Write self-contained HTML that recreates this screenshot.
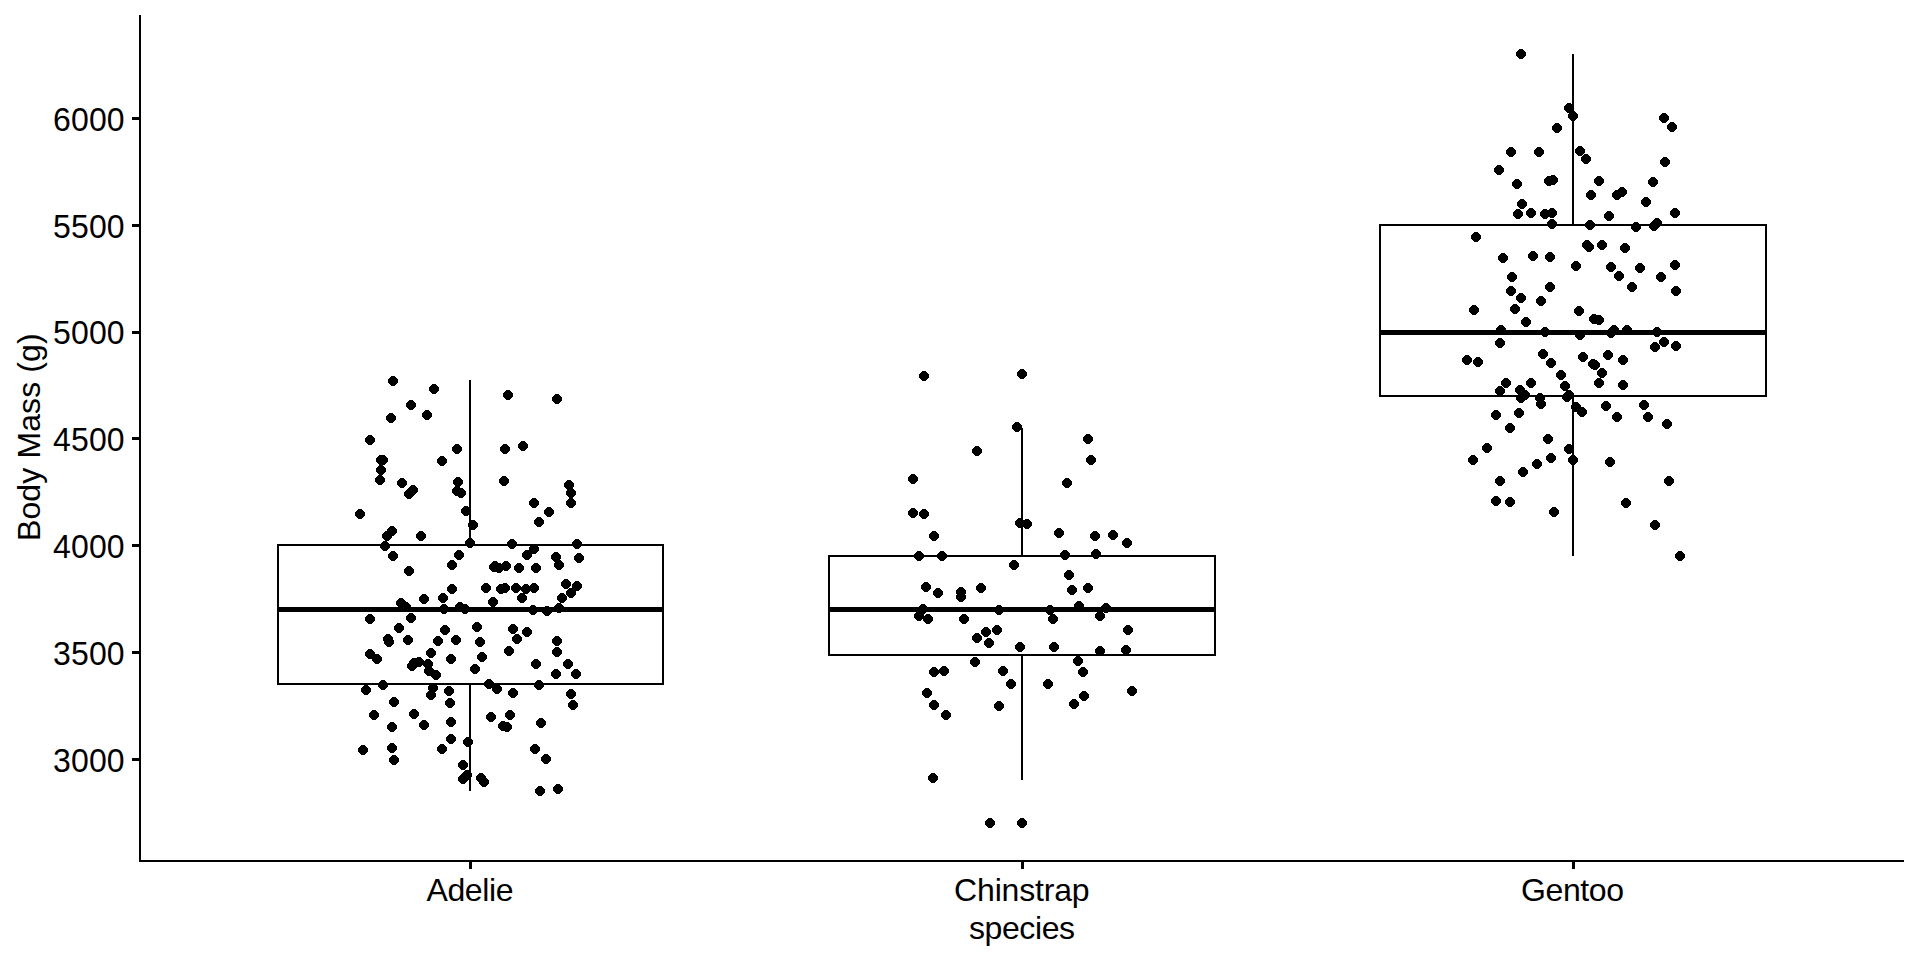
<!DOCTYPE html><html><head><meta charset="utf-8"><title>Body Mass by species</title><style>html,body{margin:0;padding:0;background:#fff;width:1920px;height:960px;overflow:hidden}svg{display:block}text{font-family:"Liberation Sans",Arial,sans-serif;fill:#000}</style></head><body>
<svg width="1920" height="960" viewBox="0 0 1920 960">
<rect width="1920" height="960" fill="#fff"/>
<g fill="#000" shape-rendering="crispEdges">
<rect x="469" y="380" width="2" height="164"/>
<rect x="469" y="685" width="2" height="106"/>
<rect x="277" y="544" width="387" height="2"/>
<rect x="277" y="683" width="387" height="2"/>
<rect x="277" y="544" width="2" height="141"/>
<rect x="662" y="544" width="2" height="141"/>
<rect x="277" y="607" width="387" height="5"/>
<rect x="1021" y="428" width="2" height="127"/>
<rect x="1021" y="656" width="2" height="124"/>
<rect x="828" y="555" width="388" height="2"/>
<rect x="828" y="654" width="388" height="2"/>
<rect x="828" y="555" width="2" height="101"/>
<rect x="1214" y="555" width="2" height="101"/>
<rect x="828" y="607" width="388" height="5"/>
<rect x="1572" y="54" width="2" height="170"/>
<rect x="1572" y="397" width="2" height="159"/>
<rect x="1379" y="224" width="388" height="2"/>
<rect x="1379" y="395" width="388" height="2"/>
<rect x="1379" y="224" width="2" height="173"/>
<rect x="1765" y="224" width="2" height="173"/>
<rect x="1379" y="330" width="388" height="5"/>
<rect x="139" y="15" width="2" height="847"/>
<rect x="139" y="860" width="1765" height="2"/>
<rect x="132" y="758" width="7" height="3"/>
<rect x="132" y="651" width="7" height="3"/>
<rect x="132" y="544" width="7" height="3"/>
<rect x="132" y="437" width="7" height="3"/>
<rect x="132" y="331" width="7" height="3"/>
<rect x="132" y="224" width="7" height="3"/>
<rect x="132" y="117" width="7" height="3"/>
<rect x="469" y="862" width="3" height="7"/>
<rect x="1021" y="862" width="3" height="7"/>
<rect x="1572" y="862" width="3" height="7"/>
</g>
<path fill="#000" d="M391 376h4v1h1v1h1v1h1v4h-1v1h-1v1h-1v1h-4v-1h-1v-1h-1v-1h-1v-4h1v-1h1v-1h1zM432 384h4v1h1v1h1v1h1v4h-1v1h-1v1h-1v1h-4v-1h-1v-1h-1v-1h-1v-4h1v-1h1v-1h1zM409 400h4v1h1v1h1v1h1v4h-1v1h-1v1h-1v1h-4v-1h-1v-1h-1v-1h-1v-4h1v-1h1v-1h1zM425 410h4v1h1v1h1v1h1v4h-1v1h-1v1h-1v1h-4v-1h-1v-1h-1v-1h-1v-4h1v-1h1v-1h1zM389 413h4v1h1v1h1v1h1v4h-1v1h-1v1h-1v1h-4v-1h-1v-1h-1v-1h-1v-4h1v-1h1v-1h1zM368 435h4v1h1v1h1v1h1v4h-1v1h-1v1h-1v1h-4v-1h-1v-1h-1v-1h-1v-4h1v-1h1v-1h1zM455 444h4v1h1v1h1v1h1v4h-1v1h-1v1h-1v1h-4v-1h-1v-1h-1v-1h-1v-4h1v-1h1v-1h1zM379 455h4v1h1v1h1v1h1v4h-1v1h-1v1h-1v1h-4v-1h-1v-1h-1v-1h-1v-4h1v-1h1v-1h1zM381 455h4v1h1v1h1v1h1v4h-1v1h-1v1h-1v1h-4v-1h-1v-1h-1v-1h-1v-4h1v-1h1v-1h1zM440 456h4v1h1v1h1v1h1v4h-1v1h-1v1h-1v1h-4v-1h-1v-1h-1v-1h-1v-4h1v-1h1v-1h1zM379 465h4v1h1v1h1v1h1v4h-1v1h-1v1h-1v1h-4v-1h-1v-1h-1v-1h-1v-4h1v-1h1v-1h1zM378 475h4v1h1v1h1v1h1v4h-1v1h-1v1h-1v1h-4v-1h-1v-1h-1v-1h-1v-4h1v-1h1v-1h1zM400 478h4v1h1v1h1v1h1v4h-1v1h-1v1h-1v1h-4v-1h-1v-1h-1v-1h-1v-4h1v-1h1v-1h1zM456 477h4v1h1v1h1v1h1v4h-1v1h-1v1h-1v1h-4v-1h-1v-1h-1v-1h-1v-4h1v-1h1v-1h1zM407 489h4v1h1v1h1v1h1v4h-1v1h-1v1h-1v1h-4v-1h-1v-1h-1v-1h-1v-4h1v-1h1v-1h1zM411 485h4v1h1v1h1v1h1v4h-1v1h-1v1h-1v1h-4v-1h-1v-1h-1v-1h-1v-4h1v-1h1v-1h1zM455 486h4v1h1v1h1v1h1v4h-1v1h-1v1h-1v1h-4v-1h-1v-1h-1v-1h-1v-4h1v-1h1v-1h1zM459 488h4v1h1v1h1v1h1v4h-1v1h-1v1h-1v1h-4v-1h-1v-1h-1v-1h-1v-4h1v-1h1v-1h1zM358 509h4v1h1v1h1v1h1v4h-1v1h-1v1h-1v1h-4v-1h-1v-1h-1v-1h-1v-4h1v-1h1v-1h1zM464 506h4v1h1v1h1v1h1v4h-1v1h-1v1h-1v1h-4v-1h-1v-1h-1v-1h-1v-4h1v-1h1v-1h1zM385 531h4v1h1v1h1v1h1v4h-1v1h-1v1h-1v1h-4v-1h-1v-1h-1v-1h-1v-4h1v-1h1v-1h1zM390 526h4v1h1v1h1v1h1v4h-1v1h-1v1h-1v1h-4v-1h-1v-1h-1v-1h-1v-4h1v-1h1v-1h1zM419 531h4v1h1v1h1v1h1v4h-1v1h-1v1h-1v1h-4v-1h-1v-1h-1v-1h-1v-4h1v-1h1v-1h1zM383 541h4v1h1v1h1v1h1v4h-1v1h-1v1h-1v1h-4v-1h-1v-1h-1v-1h-1v-4h1v-1h1v-1h1zM391 551h4v1h1v1h1v1h1v4h-1v1h-1v1h-1v1h-4v-1h-1v-1h-1v-1h-1v-4h1v-1h1v-1h1zM457 550h4v1h1v1h1v1h1v4h-1v1h-1v1h-1v1h-4v-1h-1v-1h-1v-1h-1v-4h1v-1h1v-1h1zM450 560h4v1h1v1h1v1h1v4h-1v1h-1v1h-1v1h-4v-1h-1v-1h-1v-1h-1v-4h1v-1h1v-1h1zM407 566h4v1h1v1h1v1h1v4h-1v1h-1v1h-1v1h-4v-1h-1v-1h-1v-1h-1v-4h1v-1h1v-1h1zM450 584h4v1h1v1h1v1h1v4h-1v1h-1v1h-1v1h-4v-1h-1v-1h-1v-1h-1v-4h1v-1h1v-1h1zM422 594h4v1h1v1h1v1h1v4h-1v1h-1v1h-1v1h-4v-1h-1v-1h-1v-1h-1v-4h1v-1h1v-1h1zM441 593h4v1h1v1h1v1h1v4h-1v1h-1v1h-1v1h-4v-1h-1v-1h-1v-1h-1v-4h1v-1h1v-1h1zM399 598h4v1h1v1h1v1h1v4h-1v1h-1v1h-1v1h-4v-1h-1v-1h-1v-1h-1v-4h1v-1h1v-1h1zM404 602h4v1h1v1h1v1h1v4h-1v1h-1v1h-1v1h-4v-1h-1v-1h-1v-1h-1v-4h1v-1h1v-1h1zM442 604h4v1h1v1h1v1h1v4h-1v1h-1v1h-1v1h-4v-1h-1v-1h-1v-1h-1v-4h1v-1h1v-1h1zM458 602h4v1h1v1h1v1h1v4h-1v1h-1v1h-1v1h-4v-1h-1v-1h-1v-1h-1v-4h1v-1h1v-1h1zM463 604h4v1h1v1h1v1h1v4h-1v1h-1v1h-1v1h-4v-1h-1v-1h-1v-1h-1v-4h1v-1h1v-1h1zM368 614h4v1h1v1h1v1h1v4h-1v1h-1v1h-1v1h-4v-1h-1v-1h-1v-1h-1v-4h1v-1h1v-1h1zM409 613h4v1h1v1h1v1h1v4h-1v1h-1v1h-1v1h-4v-1h-1v-1h-1v-1h-1v-4h1v-1h1v-1h1zM397 623h4v1h1v1h1v1h1v4h-1v1h-1v1h-1v1h-4v-1h-1v-1h-1v-1h-1v-4h1v-1h1v-1h1zM443 625h4v1h1v1h1v1h1v4h-1v1h-1v1h-1v1h-4v-1h-1v-1h-1v-1h-1v-4h1v-1h1v-1h1zM386 634h4v1h1v1h1v1h1v4h-1v1h-1v1h-1v1h-4v-1h-1v-1h-1v-1h-1v-4h1v-1h1v-1h1zM387 637h4v1h1v1h1v1h1v4h-1v1h-1v1h-1v1h-4v-1h-1v-1h-1v-1h-1v-4h1v-1h1v-1h1zM406 635h4v1h1v1h1v1h1v4h-1v1h-1v1h-1v1h-4v-1h-1v-1h-1v-1h-1v-4h1v-1h1v-1h1zM436 636h4v1h1v1h1v1h1v4h-1v1h-1v1h-1v1h-4v-1h-1v-1h-1v-1h-1v-4h1v-1h1v-1h1zM454 635h4v1h1v1h1v1h1v4h-1v1h-1v1h-1v1h-4v-1h-1v-1h-1v-1h-1v-4h1v-1h1v-1h1zM368 649h4v1h1v1h1v1h1v4h-1v1h-1v1h-1v1h-4v-1h-1v-1h-1v-1h-1v-4h1v-1h1v-1h1zM375 654h4v1h1v1h1v1h1v4h-1v1h-1v1h-1v1h-4v-1h-1v-1h-1v-1h-1v-4h1v-1h1v-1h1zM429 648h4v1h1v1h1v1h1v4h-1v1h-1v1h-1v1h-4v-1h-1v-1h-1v-1h-1v-4h1v-1h1v-1h1zM449 654h4v1h1v1h1v1h1v4h-1v1h-1v1h-1v1h-4v-1h-1v-1h-1v-1h-1v-4h1v-1h1v-1h1zM410 661h4v1h1v1h1v1h1v4h-1v1h-1v1h-1v1h-4v-1h-1v-1h-1v-1h-1v-4h1v-1h1v-1h1zM412 658h4v1h1v1h1v1h1v4h-1v1h-1v1h-1v1h-4v-1h-1v-1h-1v-1h-1v-4h1v-1h1v-1h1zM417 657h4v1h1v1h1v1h1v4h-1v1h-1v1h-1v1h-4v-1h-1v-1h-1v-1h-1v-4h1v-1h1v-1h1zM426 659h4v1h1v1h1v1h1v4h-1v1h-1v1h-1v1h-4v-1h-1v-1h-1v-1h-1v-4h1v-1h1v-1h1zM427 666h4v1h1v1h1v1h1v4h-1v1h-1v1h-1v1h-4v-1h-1v-1h-1v-1h-1v-4h1v-1h1v-1h1zM434 670h4v1h1v1h1v1h1v4h-1v1h-1v1h-1v1h-4v-1h-1v-1h-1v-1h-1v-4h1v-1h1v-1h1zM381 680h4v1h1v1h1v1h1v4h-1v1h-1v1h-1v1h-4v-1h-1v-1h-1v-1h-1v-4h1v-1h1v-1h1zM364 685h4v1h1v1h1v1h1v4h-1v1h-1v1h-1v1h-4v-1h-1v-1h-1v-1h-1v-4h1v-1h1v-1h1zM431 683h4v1h1v1h1v1h1v4h-1v1h-1v1h-1v1h-4v-1h-1v-1h-1v-1h-1v-4h1v-1h1v-1h1zM429 690h4v1h1v1h1v1h1v4h-1v1h-1v1h-1v1h-4v-1h-1v-1h-1v-1h-1v-4h1v-1h1v-1h1zM447 686h4v1h1v1h1v1h1v4h-1v1h-1v1h-1v1h-4v-1h-1v-1h-1v-1h-1v-4h1v-1h1v-1h1zM392 697h4v1h1v1h1v1h1v4h-1v1h-1v1h-1v1h-4v-1h-1v-1h-1v-1h-1v-4h1v-1h1v-1h1zM448 698h4v1h1v1h1v1h1v4h-1v1h-1v1h-1v1h-4v-1h-1v-1h-1v-1h-1v-4h1v-1h1v-1h1zM372 710h4v1h1v1h1v1h1v4h-1v1h-1v1h-1v1h-4v-1h-1v-1h-1v-1h-1v-4h1v-1h1v-1h1zM412 709h4v1h1v1h1v1h1v4h-1v1h-1v1h-1v1h-4v-1h-1v-1h-1v-1h-1v-4h1v-1h1v-1h1zM390 722h4v1h1v1h1v1h1v4h-1v1h-1v1h-1v1h-4v-1h-1v-1h-1v-1h-1v-4h1v-1h1v-1h1zM422 720h4v1h1v1h1v1h1v4h-1v1h-1v1h-1v1h-4v-1h-1v-1h-1v-1h-1v-4h1v-1h1v-1h1zM449 717h4v1h1v1h1v1h1v4h-1v1h-1v1h-1v1h-4v-1h-1v-1h-1v-1h-1v-4h1v-1h1v-1h1zM449 734h4v1h1v1h1v1h1v4h-1v1h-1v1h-1v1h-4v-1h-1v-1h-1v-1h-1v-4h1v-1h1v-1h1zM466 737h4v1h1v1h1v1h1v4h-1v1h-1v1h-1v1h-4v-1h-1v-1h-1v-1h-1v-4h1v-1h1v-1h1zM361 745h4v1h1v1h1v1h1v4h-1v1h-1v1h-1v1h-4v-1h-1v-1h-1v-1h-1v-4h1v-1h1v-1h1zM390 743h4v1h1v1h1v1h1v4h-1v1h-1v1h-1v1h-4v-1h-1v-1h-1v-1h-1v-4h1v-1h1v-1h1zM440 744h4v1h1v1h1v1h1v4h-1v1h-1v1h-1v1h-4v-1h-1v-1h-1v-1h-1v-4h1v-1h1v-1h1zM392 755h4v1h1v1h1v1h1v4h-1v1h-1v1h-1v1h-4v-1h-1v-1h-1v-1h-1v-4h1v-1h1v-1h1zM461 760h4v1h1v1h1v1h1v4h-1v1h-1v1h-1v1h-4v-1h-1v-1h-1v-1h-1v-4h1v-1h1v-1h1zM461 774h4v1h1v1h1v1h1v4h-1v1h-1v1h-1v1h-4v-1h-1v-1h-1v-1h-1v-4h1v-1h1v-1h1zM506 390h4v1h1v1h1v1h1v4h-1v1h-1v1h-1v1h-4v-1h-1v-1h-1v-1h-1v-4h1v-1h1v-1h1zM555 394h4v1h1v1h1v1h1v4h-1v1h-1v1h-1v1h-4v-1h-1v-1h-1v-1h-1v-4h1v-1h1v-1h1zM503 444h4v1h1v1h1v1h1v4h-1v1h-1v1h-1v1h-4v-1h-1v-1h-1v-1h-1v-4h1v-1h1v-1h1zM521 441h4v1h1v1h1v1h1v4h-1v1h-1v1h-1v1h-4v-1h-1v-1h-1v-1h-1v-4h1v-1h1v-1h1zM502 476h4v1h1v1h1v1h1v4h-1v1h-1v1h-1v1h-4v-1h-1v-1h-1v-1h-1v-4h1v-1h1v-1h1zM567 480h4v1h1v1h1v1h1v4h-1v1h-1v1h-1v1h-4v-1h-1v-1h-1v-1h-1v-4h1v-1h1v-1h1zM569 488h4v1h1v1h1v1h1v4h-1v1h-1v1h-1v1h-4v-1h-1v-1h-1v-1h-1v-4h1v-1h1v-1h1zM569 498h4v1h1v1h1v1h1v4h-1v1h-1v1h-1v1h-4v-1h-1v-1h-1v-1h-1v-4h1v-1h1v-1h1zM532 498h4v1h1v1h1v1h1v4h-1v1h-1v1h-1v1h-4v-1h-1v-1h-1v-1h-1v-4h1v-1h1v-1h1zM547 507h4v1h1v1h1v1h1v4h-1v1h-1v1h-1v1h-4v-1h-1v-1h-1v-1h-1v-4h1v-1h1v-1h1zM537 517h4v1h1v1h1v1h1v4h-1v1h-1v1h-1v1h-4v-1h-1v-1h-1v-1h-1v-4h1v-1h1v-1h1zM471 520h4v1h1v1h1v1h1v4h-1v1h-1v1h-1v1h-4v-1h-1v-1h-1v-1h-1v-4h1v-1h1v-1h1zM468 538h4v1h1v1h1v1h1v4h-1v1h-1v1h-1v1h-4v-1h-1v-1h-1v-1h-1v-4h1v-1h1v-1h1zM510 539h4v1h1v1h1v1h1v4h-1v1h-1v1h-1v1h-4v-1h-1v-1h-1v-1h-1v-4h1v-1h1v-1h1zM575 539h4v1h1v1h1v1h1v4h-1v1h-1v1h-1v1h-4v-1h-1v-1h-1v-1h-1v-4h1v-1h1v-1h1zM532 544h4v1h1v1h1v1h1v4h-1v1h-1v1h-1v1h-4v-1h-1v-1h-1v-1h-1v-4h1v-1h1v-1h1zM525 550h4v1h1v1h1v1h1v4h-1v1h-1v1h-1v1h-4v-1h-1v-1h-1v-1h-1v-4h1v-1h1v-1h1zM554 552h4v1h1v1h1v1h1v4h-1v1h-1v1h-1v1h-4v-1h-1v-1h-1v-1h-1v-4h1v-1h1v-1h1zM557 560h4v1h1v1h1v1h1v4h-1v1h-1v1h-1v1h-4v-1h-1v-1h-1v-1h-1v-4h1v-1h1v-1h1zM577 553h4v1h1v1h1v1h1v4h-1v1h-1v1h-1v1h-4v-1h-1v-1h-1v-1h-1v-4h1v-1h1v-1h1zM492 562h4v1h1v1h1v1h1v4h-1v1h-1v1h-1v1h-4v-1h-1v-1h-1v-1h-1v-4h1v-1h1v-1h1zM493 561h4v1h1v1h1v1h1v4h-1v1h-1v1h-1v1h-4v-1h-1v-1h-1v-1h-1v-4h1v-1h1v-1h1zM497 563h4v1h1v1h1v1h1v4h-1v1h-1v1h-1v1h-4v-1h-1v-1h-1v-1h-1v-4h1v-1h1v-1h1zM504 561h4v1h1v1h1v1h1v4h-1v1h-1v1h-1v1h-4v-1h-1v-1h-1v-1h-1v-4h1v-1h1v-1h1zM517 563h4v1h1v1h1v1h1v4h-1v1h-1v1h-1v1h-4v-1h-1v-1h-1v-1h-1v-4h1v-1h1v-1h1zM534 563h4v1h1v1h1v1h1v4h-1v1h-1v1h-1v1h-4v-1h-1v-1h-1v-1h-1v-4h1v-1h1v-1h1zM484 583h4v1h1v1h1v1h1v4h-1v1h-1v1h-1v1h-4v-1h-1v-1h-1v-1h-1v-4h1v-1h1v-1h1zM499 584h4v1h1v1h1v1h1v4h-1v1h-1v1h-1v1h-4v-1h-1v-1h-1v-1h-1v-4h1v-1h1v-1h1zM503 583h4v1h1v1h1v1h1v4h-1v1h-1v1h-1v1h-4v-1h-1v-1h-1v-1h-1v-4h1v-1h1v-1h1zM514 583h4v1h1v1h1v1h1v4h-1v1h-1v1h-1v1h-4v-1h-1v-1h-1v-1h-1v-4h1v-1h1v-1h1zM524 584h4v1h1v1h1v1h1v4h-1v1h-1v1h-1v1h-4v-1h-1v-1h-1v-1h-1v-4h1v-1h1v-1h1zM532 583h4v1h1v1h1v1h1v4h-1v1h-1v1h-1v1h-4v-1h-1v-1h-1v-1h-1v-4h1v-1h1v-1h1zM564 579h4v1h1v1h1v1h1v4h-1v1h-1v1h-1v1h-4v-1h-1v-1h-1v-1h-1v-4h1v-1h1v-1h1zM575 581h4v1h1v1h1v1h1v4h-1v1h-1v1h-1v1h-4v-1h-1v-1h-1v-1h-1v-4h1v-1h1v-1h1zM569 588h4v1h1v1h1v1h1v4h-1v1h-1v1h-1v1h-4v-1h-1v-1h-1v-1h-1v-4h1v-1h1v-1h1zM560 593h4v1h1v1h1v1h1v4h-1v1h-1v1h-1v1h-4v-1h-1v-1h-1v-1h-1v-4h1v-1h1v-1h1zM491 597h4v1h1v1h1v1h1v4h-1v1h-1v1h-1v1h-4v-1h-1v-1h-1v-1h-1v-4h1v-1h1v-1h1zM520 593h4v1h1v1h1v1h1v4h-1v1h-1v1h-1v1h-4v-1h-1v-1h-1v-1h-1v-4h1v-1h1v-1h1zM531 605h4v1h1v1h1v1h1v4h-1v1h-1v1h-1v1h-4v-1h-1v-1h-1v-1h-1v-4h1v-1h1v-1h1zM545 606h4v1h1v1h1v1h1v4h-1v1h-1v1h-1v1h-4v-1h-1v-1h-1v-1h-1v-4h1v-1h1v-1h1zM557 603h4v1h1v1h1v1h1v4h-1v1h-1v1h-1v1h-4v-1h-1v-1h-1v-1h-1v-4h1v-1h1v-1h1zM475 622h4v1h1v1h1v1h1v4h-1v1h-1v1h-1v1h-4v-1h-1v-1h-1v-1h-1v-4h1v-1h1v-1h1zM511 624h4v1h1v1h1v1h1v4h-1v1h-1v1h-1v1h-4v-1h-1v-1h-1v-1h-1v-4h1v-1h1v-1h1zM525 627h4v1h1v1h1v1h1v4h-1v1h-1v1h-1v1h-4v-1h-1v-1h-1v-1h-1v-4h1v-1h1v-1h1zM515 634h4v1h1v1h1v1h1v4h-1v1h-1v1h-1v1h-4v-1h-1v-1h-1v-1h-1v-4h1v-1h1v-1h1zM478 637h4v1h1v1h1v1h1v4h-1v1h-1v1h-1v1h-4v-1h-1v-1h-1v-1h-1v-4h1v-1h1v-1h1zM555 636h4v1h1v1h1v1h1v4h-1v1h-1v1h-1v1h-4v-1h-1v-1h-1v-1h-1v-4h1v-1h1v-1h1zM507 646h4v1h1v1h1v1h1v4h-1v1h-1v1h-1v1h-4v-1h-1v-1h-1v-1h-1v-4h1v-1h1v-1h1zM555 647h4v1h1v1h1v1h1v4h-1v1h-1v1h-1v1h-4v-1h-1v-1h-1v-1h-1v-4h1v-1h1v-1h1zM480 652h4v1h1v1h1v1h1v4h-1v1h-1v1h-1v1h-4v-1h-1v-1h-1v-1h-1v-4h1v-1h1v-1h1zM534 659h4v1h1v1h1v1h1v4h-1v1h-1v1h-1v1h-4v-1h-1v-1h-1v-1h-1v-4h1v-1h1v-1h1zM566 659h4v1h1v1h1v1h1v4h-1v1h-1v1h-1v1h-4v-1h-1v-1h-1v-1h-1v-4h1v-1h1v-1h1zM473 664h4v1h1v1h1v1h1v4h-1v1h-1v1h-1v1h-4v-1h-1v-1h-1v-1h-1v-4h1v-1h1v-1h1zM554 669h4v1h1v1h1v1h1v4h-1v1h-1v1h-1v1h-4v-1h-1v-1h-1v-1h-1v-4h1v-1h1v-1h1zM574 669h4v1h1v1h1v1h1v4h-1v1h-1v1h-1v1h-4v-1h-1v-1h-1v-1h-1v-4h1v-1h1v-1h1zM487 679h4v1h1v1h1v1h1v4h-1v1h-1v1h-1v1h-4v-1h-1v-1h-1v-1h-1v-4h1v-1h1v-1h1zM495 684h4v1h1v1h1v1h1v4h-1v1h-1v1h-1v1h-4v-1h-1v-1h-1v-1h-1v-4h1v-1h1v-1h1zM511 688h4v1h1v1h1v1h1v4h-1v1h-1v1h-1v1h-4v-1h-1v-1h-1v-1h-1v-4h1v-1h1v-1h1zM537 680h4v1h1v1h1v1h1v4h-1v1h-1v1h-1v1h-4v-1h-1v-1h-1v-1h-1v-4h1v-1h1v-1h1zM569 689h4v1h1v1h1v1h1v4h-1v1h-1v1h-1v1h-4v-1h-1v-1h-1v-1h-1v-4h1v-1h1v-1h1zM571 700h4v1h1v1h1v1h1v4h-1v1h-1v1h-1v1h-4v-1h-1v-1h-1v-1h-1v-4h1v-1h1v-1h1zM489 712h4v1h1v1h1v1h1v4h-1v1h-1v1h-1v1h-4v-1h-1v-1h-1v-1h-1v-4h1v-1h1v-1h1zM508 710h4v1h1v1h1v1h1v4h-1v1h-1v1h-1v1h-4v-1h-1v-1h-1v-1h-1v-4h1v-1h1v-1h1zM501 721h4v1h1v1h1v1h1v4h-1v1h-1v1h-1v1h-4v-1h-1v-1h-1v-1h-1v-4h1v-1h1v-1h1zM505 722h4v1h1v1h1v1h1v4h-1v1h-1v1h-1v1h-4v-1h-1v-1h-1v-1h-1v-4h1v-1h1v-1h1zM539 718h4v1h1v1h1v1h1v4h-1v1h-1v1h-1v1h-4v-1h-1v-1h-1v-1h-1v-4h1v-1h1v-1h1zM533 744h4v1h1v1h1v1h1v4h-1v1h-1v1h-1v1h-4v-1h-1v-1h-1v-1h-1v-4h1v-1h1v-1h1zM544 754h4v1h1v1h1v1h1v4h-1v1h-1v1h-1v1h-4v-1h-1v-1h-1v-1h-1v-4h1v-1h1v-1h1zM465 770h4v1h1v1h1v1h1v4h-1v1h-1v1h-1v1h-4v-1h-1v-1h-1v-1h-1v-4h1v-1h1v-1h1zM479 773h4v1h1v1h1v1h1v4h-1v1h-1v1h-1v1h-4v-1h-1v-1h-1v-1h-1v-4h1v-1h1v-1h1zM482 777h4v1h1v1h1v1h1v4h-1v1h-1v1h-1v1h-4v-1h-1v-1h-1v-1h-1v-4h1v-1h1v-1h1zM538 786h4v1h1v1h1v1h1v4h-1v1h-1v1h-1v1h-4v-1h-1v-1h-1v-1h-1v-4h1v-1h1v-1h1zM556 784h4v1h1v1h1v1h1v4h-1v1h-1v1h-1v1h-4v-1h-1v-1h-1v-1h-1v-4h1v-1h1v-1h1zM922 371h4v1h1v1h1v1h1v4h-1v1h-1v1h-1v1h-4v-1h-1v-1h-1v-1h-1v-4h1v-1h1v-1h1zM1020 369h4v1h1v1h1v1h1v4h-1v1h-1v1h-1v1h-4v-1h-1v-1h-1v-1h-1v-4h1v-1h1v-1h1zM1015 422h4v1h1v1h1v1h1v4h-1v1h-1v1h-1v1h-4v-1h-1v-1h-1v-1h-1v-4h1v-1h1v-1h1zM975 446h4v1h1v1h1v1h1v4h-1v1h-1v1h-1v1h-4v-1h-1v-1h-1v-1h-1v-4h1v-1h1v-1h1zM911 474h4v1h1v1h1v1h1v4h-1v1h-1v1h-1v1h-4v-1h-1v-1h-1v-1h-1v-4h1v-1h1v-1h1zM1086 434h4v1h1v1h1v1h1v4h-1v1h-1v1h-1v1h-4v-1h-1v-1h-1v-1h-1v-4h1v-1h1v-1h1zM1089 455h4v1h1v1h1v1h1v4h-1v1h-1v1h-1v1h-4v-1h-1v-1h-1v-1h-1v-4h1v-1h1v-1h1zM911 508h4v1h1v1h1v1h1v4h-1v1h-1v1h-1v1h-4v-1h-1v-1h-1v-1h-1v-4h1v-1h1v-1h1zM922 509h4v1h1v1h1v1h1v4h-1v1h-1v1h-1v1h-4v-1h-1v-1h-1v-1h-1v-4h1v-1h1v-1h1zM1018 518h4v1h1v1h1v1h1v4h-1v1h-1v1h-1v1h-4v-1h-1v-1h-1v-1h-1v-4h1v-1h1v-1h1zM932 531h4v1h1v1h1v1h1v4h-1v1h-1v1h-1v1h-4v-1h-1v-1h-1v-1h-1v-4h1v-1h1v-1h1zM917 551h4v1h1v1h1v1h1v4h-1v1h-1v1h-1v1h-4v-1h-1v-1h-1v-1h-1v-4h1v-1h1v-1h1zM940 551h4v1h1v1h1v1h1v4h-1v1h-1v1h-1v1h-4v-1h-1v-1h-1v-1h-1v-4h1v-1h1v-1h1zM1012 560h4v1h1v1h1v1h1v4h-1v1h-1v1h-1v1h-4v-1h-1v-1h-1v-1h-1v-4h1v-1h1v-1h1zM924 582h4v1h1v1h1v1h1v4h-1v1h-1v1h-1v1h-4v-1h-1v-1h-1v-1h-1v-4h1v-1h1v-1h1zM979 583h4v1h1v1h1v1h1v4h-1v1h-1v1h-1v1h-4v-1h-1v-1h-1v-1h-1v-4h1v-1h1v-1h1zM1065 478h4v1h1v1h1v1h1v4h-1v1h-1v1h-1v1h-4v-1h-1v-1h-1v-1h-1v-4h1v-1h1v-1h1zM1025 519h4v1h1v1h1v1h1v4h-1v1h-1v1h-1v1h-4v-1h-1v-1h-1v-1h-1v-4h1v-1h1v-1h1zM1057 528h4v1h1v1h1v1h1v4h-1v1h-1v1h-1v1h-4v-1h-1v-1h-1v-1h-1v-4h1v-1h1v-1h1zM1093 531h4v1h1v1h1v1h1v4h-1v1h-1v1h-1v1h-4v-1h-1v-1h-1v-1h-1v-4h1v-1h1v-1h1zM1111 530h4v1h1v1h1v1h1v4h-1v1h-1v1h-1v1h-4v-1h-1v-1h-1v-1h-1v-4h1v-1h1v-1h1zM1125 538h4v1h1v1h1v1h1v4h-1v1h-1v1h-1v1h-4v-1h-1v-1h-1v-1h-1v-4h1v-1h1v-1h1zM1063 550h4v1h1v1h1v1h1v4h-1v1h-1v1h-1v1h-4v-1h-1v-1h-1v-1h-1v-4h1v-1h1v-1h1zM1094 549h4v1h1v1h1v1h1v4h-1v1h-1v1h-1v1h-4v-1h-1v-1h-1v-1h-1v-4h1v-1h1v-1h1zM1067 570h4v1h1v1h1v1h1v4h-1v1h-1v1h-1v1h-4v-1h-1v-1h-1v-1h-1v-4h1v-1h1v-1h1zM1070 585h4v1h1v1h1v1h1v4h-1v1h-1v1h-1v1h-4v-1h-1v-1h-1v-1h-1v-4h1v-1h1v-1h1zM1086 583h4v1h1v1h1v1h1v4h-1v1h-1v1h-1v1h-4v-1h-1v-1h-1v-1h-1v-4h1v-1h1v-1h1zM936 588h4v1h1v1h1v1h1v4h-1v1h-1v1h-1v1h-4v-1h-1v-1h-1v-1h-1v-4h1v-1h1v-1h1zM959 587h4v1h1v1h1v1h1v4h-1v1h-1v1h-1v1h-4v-1h-1v-1h-1v-1h-1v-4h1v-1h1v-1h1zM959 592h4v1h1v1h1v1h1v4h-1v1h-1v1h-1v1h-4v-1h-1v-1h-1v-1h-1v-4h1v-1h1v-1h1zM921 604h4v1h1v1h1v1h1v4h-1v1h-1v1h-1v1h-4v-1h-1v-1h-1v-1h-1v-4h1v-1h1v-1h1zM917 611h4v1h1v1h1v1h1v4h-1v1h-1v1h-1v1h-4v-1h-1v-1h-1v-1h-1v-4h1v-1h1v-1h1zM926 614h4v1h1v1h1v1h1v4h-1v1h-1v1h-1v1h-4v-1h-1v-1h-1v-1h-1v-4h1v-1h1v-1h1zM962 614h4v1h1v1h1v1h1v4h-1v1h-1v1h-1v1h-4v-1h-1v-1h-1v-1h-1v-4h1v-1h1v-1h1zM997 605h4v1h1v1h1v1h1v4h-1v1h-1v1h-1v1h-4v-1h-1v-1h-1v-1h-1v-4h1v-1h1v-1h1zM984 627h4v1h1v1h1v1h1v4h-1v1h-1v1h-1v1h-4v-1h-1v-1h-1v-1h-1v-4h1v-1h1v-1h1zM995 625h4v1h1v1h1v1h1v4h-1v1h-1v1h-1v1h-4v-1h-1v-1h-1v-1h-1v-4h1v-1h1v-1h1zM975 633h4v1h1v1h1v1h1v4h-1v1h-1v1h-1v1h-4v-1h-1v-1h-1v-1h-1v-4h1v-1h1v-1h1zM987 638h4v1h1v1h1v1h1v4h-1v1h-1v1h-1v1h-4v-1h-1v-1h-1v-1h-1v-4h1v-1h1v-1h1zM1018 642h4v1h1v1h1v1h1v4h-1v1h-1v1h-1v1h-4v-1h-1v-1h-1v-1h-1v-4h1v-1h1v-1h1zM973 657h4v1h1v1h1v1h1v4h-1v1h-1v1h-1v1h-4v-1h-1v-1h-1v-1h-1v-4h1v-1h1v-1h1zM932 667h4v1h1v1h1v1h1v4h-1v1h-1v1h-1v1h-4v-1h-1v-1h-1v-1h-1v-4h1v-1h1v-1h1zM942 666h4v1h1v1h1v1h1v4h-1v1h-1v1h-1v1h-4v-1h-1v-1h-1v-1h-1v-4h1v-1h1v-1h1zM1001 666h4v1h1v1h1v1h1v4h-1v1h-1v1h-1v1h-4v-1h-1v-1h-1v-1h-1v-4h1v-1h1v-1h1zM1009 679h4v1h1v1h1v1h1v4h-1v1h-1v1h-1v1h-4v-1h-1v-1h-1v-1h-1v-4h1v-1h1v-1h1zM925 688h4v1h1v1h1v1h1v4h-1v1h-1v1h-1v1h-4v-1h-1v-1h-1v-1h-1v-4h1v-1h1v-1h1zM1048 605h4v1h1v1h1v1h1v4h-1v1h-1v1h-1v1h-4v-1h-1v-1h-1v-1h-1v-4h1v-1h1v-1h1zM1051 614h4v1h1v1h1v1h1v4h-1v1h-1v1h-1v1h-4v-1h-1v-1h-1v-1h-1v-4h1v-1h1v-1h1zM1077 601h4v1h1v1h1v1h1v4h-1v1h-1v1h-1v1h-4v-1h-1v-1h-1v-1h-1v-4h1v-1h1v-1h1zM1104 603h4v1h1v1h1v1h1v4h-1v1h-1v1h-1v1h-4v-1h-1v-1h-1v-1h-1v-4h1v-1h1v-1h1zM1098 611h4v1h1v1h1v1h1v4h-1v1h-1v1h-1v1h-4v-1h-1v-1h-1v-1h-1v-4h1v-1h1v-1h1zM1126 625h4v1h1v1h1v1h1v4h-1v1h-1v1h-1v1h-4v-1h-1v-1h-1v-1h-1v-4h1v-1h1v-1h1zM1052 642h4v1h1v1h1v1h1v4h-1v1h-1v1h-1v1h-4v-1h-1v-1h-1v-1h-1v-4h1v-1h1v-1h1zM1098 646h4v1h1v1h1v1h1v4h-1v1h-1v1h-1v1h-4v-1h-1v-1h-1v-1h-1v-4h1v-1h1v-1h1zM1124 645h4v1h1v1h1v1h1v4h-1v1h-1v1h-1v1h-4v-1h-1v-1h-1v-1h-1v-4h1v-1h1v-1h1zM1076 656h4v1h1v1h1v1h1v4h-1v1h-1v1h-1v1h-4v-1h-1v-1h-1v-1h-1v-4h1v-1h1v-1h1zM1081 667h4v1h1v1h1v1h1v4h-1v1h-1v1h-1v1h-4v-1h-1v-1h-1v-1h-1v-4h1v-1h1v-1h1zM1046 679h4v1h1v1h1v1h1v4h-1v1h-1v1h-1v1h-4v-1h-1v-1h-1v-1h-1v-4h1v-1h1v-1h1zM1130 686h4v1h1v1h1v1h1v4h-1v1h-1v1h-1v1h-4v-1h-1v-1h-1v-1h-1v-4h1v-1h1v-1h1zM1082 691h4v1h1v1h1v1h1v4h-1v1h-1v1h-1v1h-4v-1h-1v-1h-1v-1h-1v-4h1v-1h1v-1h1zM932 700h4v1h1v1h1v1h1v4h-1v1h-1v1h-1v1h-4v-1h-1v-1h-1v-1h-1v-4h1v-1h1v-1h1zM944 710h4v1h1v1h1v1h1v4h-1v1h-1v1h-1v1h-4v-1h-1v-1h-1v-1h-1v-4h1v-1h1v-1h1zM997 701h4v1h1v1h1v1h1v4h-1v1h-1v1h-1v1h-4v-1h-1v-1h-1v-1h-1v-4h1v-1h1v-1h1zM931 773h4v1h1v1h1v1h1v4h-1v1h-1v1h-1v1h-4v-1h-1v-1h-1v-1h-1v-4h1v-1h1v-1h1zM1072 699h4v1h1v1h1v1h1v4h-1v1h-1v1h-1v1h-4v-1h-1v-1h-1v-1h-1v-4h1v-1h1v-1h1zM988 818h4v1h1v1h1v1h1v4h-1v1h-1v1h-1v1h-4v-1h-1v-1h-1v-1h-1v-4h1v-1h1v-1h1zM1020 818h4v1h1v1h1v1h1v4h-1v1h-1v1h-1v1h-4v-1h-1v-1h-1v-1h-1v-4h1v-1h1v-1h1zM1519 49h4v1h1v1h1v1h1v4h-1v1h-1v1h-1v1h-4v-1h-1v-1h-1v-1h-1v-4h1v-1h1v-1h1zM1567 103h4v1h1v1h1v1h1v4h-1v1h-1v1h-1v1h-4v-1h-1v-1h-1v-1h-1v-4h1v-1h1v-1h1zM1555 123h4v1h1v1h1v1h1v4h-1v1h-1v1h-1v1h-4v-1h-1v-1h-1v-1h-1v-4h1v-1h1v-1h1zM1509 147h4v1h1v1h1v1h1v4h-1v1h-1v1h-1v1h-4v-1h-1v-1h-1v-1h-1v-4h1v-1h1v-1h1zM1537 147h4v1h1v1h1v1h1v4h-1v1h-1v1h-1v1h-4v-1h-1v-1h-1v-1h-1v-4h1v-1h1v-1h1zM1571 111h4v1h1v1h1v1h1v4h-1v1h-1v1h-1v1h-4v-1h-1v-1h-1v-1h-1v-4h1v-1h1v-1h1zM1662 113h4v1h1v1h1v1h1v4h-1v1h-1v1h-1v1h-4v-1h-1v-1h-1v-1h-1v-4h1v-1h1v-1h1zM1670 122h4v1h1v1h1v1h1v4h-1v1h-1v1h-1v1h-4v-1h-1v-1h-1v-1h-1v-4h1v-1h1v-1h1zM1578 146h4v1h1v1h1v1h1v4h-1v1h-1v1h-1v1h-4v-1h-1v-1h-1v-1h-1v-4h1v-1h1v-1h1zM1497 165h4v1h1v1h1v1h1v4h-1v1h-1v1h-1v1h-4v-1h-1v-1h-1v-1h-1v-4h1v-1h1v-1h1zM1515 179h4v1h1v1h1v1h1v4h-1v1h-1v1h-1v1h-4v-1h-1v-1h-1v-1h-1v-4h1v-1h1v-1h1zM1547 176h4v1h1v1h1v1h1v4h-1v1h-1v1h-1v1h-4v-1h-1v-1h-1v-1h-1v-4h1v-1h1v-1h1zM1551 175h4v1h1v1h1v1h1v4h-1v1h-1v1h-1v1h-4v-1h-1v-1h-1v-1h-1v-4h1v-1h1v-1h1zM1520 199h4v1h1v1h1v1h1v4h-1v1h-1v1h-1v1h-4v-1h-1v-1h-1v-1h-1v-4h1v-1h1v-1h1zM1516 209h4v1h1v1h1v1h1v4h-1v1h-1v1h-1v1h-4v-1h-1v-1h-1v-1h-1v-4h1v-1h1v-1h1zM1529 208h4v1h1v1h1v1h1v4h-1v1h-1v1h-1v1h-4v-1h-1v-1h-1v-1h-1v-4h1v-1h1v-1h1zM1543 209h4v1h1v1h1v1h1v4h-1v1h-1v1h-1v1h-4v-1h-1v-1h-1v-1h-1v-4h1v-1h1v-1h1zM1550 208h4v1h1v1h1v1h1v4h-1v1h-1v1h-1v1h-4v-1h-1v-1h-1v-1h-1v-4h1v-1h1v-1h1zM1550 219h4v1h1v1h1v1h1v4h-1v1h-1v1h-1v1h-4v-1h-1v-1h-1v-1h-1v-4h1v-1h1v-1h1zM1474 232h4v1h1v1h1v1h1v4h-1v1h-1v1h-1v1h-4v-1h-1v-1h-1v-1h-1v-4h1v-1h1v-1h1zM1501 253h4v1h1v1h1v1h1v4h-1v1h-1v1h-1v1h-4v-1h-1v-1h-1v-1h-1v-4h1v-1h1v-1h1zM1531 251h4v1h1v1h1v1h1v4h-1v1h-1v1h-1v1h-4v-1h-1v-1h-1v-1h-1v-4h1v-1h1v-1h1zM1548 252h4v1h1v1h1v1h1v4h-1v1h-1v1h-1v1h-4v-1h-1v-1h-1v-1h-1v-4h1v-1h1v-1h1zM1584 154h4v1h1v1h1v1h1v4h-1v1h-1v1h-1v1h-4v-1h-1v-1h-1v-1h-1v-4h1v-1h1v-1h1zM1663 157h4v1h1v1h1v1h1v4h-1v1h-1v1h-1v1h-4v-1h-1v-1h-1v-1h-1v-4h1v-1h1v-1h1zM1597 176h4v1h1v1h1v1h1v4h-1v1h-1v1h-1v1h-4v-1h-1v-1h-1v-1h-1v-4h1v-1h1v-1h1zM1651 177h4v1h1v1h1v1h1v4h-1v1h-1v1h-1v1h-4v-1h-1v-1h-1v-1h-1v-4h1v-1h1v-1h1zM1589 190h4v1h1v1h1v1h1v4h-1v1h-1v1h-1v1h-4v-1h-1v-1h-1v-1h-1v-4h1v-1h1v-1h1zM1615 190h4v1h1v1h1v1h1v4h-1v1h-1v1h-1v1h-4v-1h-1v-1h-1v-1h-1v-4h1v-1h1v-1h1zM1620 187h4v1h1v1h1v1h1v4h-1v1h-1v1h-1v1h-4v-1h-1v-1h-1v-1h-1v-4h1v-1h1v-1h1zM1644 197h4v1h1v1h1v1h1v4h-1v1h-1v1h-1v1h-4v-1h-1v-1h-1v-1h-1v-4h1v-1h1v-1h1zM1673 208h4v1h1v1h1v1h1v4h-1v1h-1v1h-1v1h-4v-1h-1v-1h-1v-1h-1v-4h1v-1h1v-1h1zM1607 211h4v1h1v1h1v1h1v4h-1v1h-1v1h-1v1h-4v-1h-1v-1h-1v-1h-1v-4h1v-1h1v-1h1zM1588 220h4v1h1v1h1v1h1v4h-1v1h-1v1h-1v1h-4v-1h-1v-1h-1v-1h-1v-4h1v-1h1v-1h1zM1634 222h4v1h1v1h1v1h1v4h-1v1h-1v1h-1v1h-4v-1h-1v-1h-1v-1h-1v-4h1v-1h1v-1h1zM1652 221h4v1h1v1h1v1h1v4h-1v1h-1v1h-1v1h-4v-1h-1v-1h-1v-1h-1v-4h1v-1h1v-1h1zM1655 218h4v1h1v1h1v1h1v4h-1v1h-1v1h-1v1h-4v-1h-1v-1h-1v-1h-1v-4h1v-1h1v-1h1zM1585 240h4v1h1v1h1v1h1v4h-1v1h-1v1h-1v1h-4v-1h-1v-1h-1v-1h-1v-4h1v-1h1v-1h1zM1587 242h4v1h1v1h1v1h1v4h-1v1h-1v1h-1v1h-4v-1h-1v-1h-1v-1h-1v-4h1v-1h1v-1h1zM1600 240h4v1h1v1h1v1h1v4h-1v1h-1v1h-1v1h-4v-1h-1v-1h-1v-1h-1v-4h1v-1h1v-1h1zM1623 243h4v1h1v1h1v1h1v4h-1v1h-1v1h-1v1h-4v-1h-1v-1h-1v-1h-1v-4h1v-1h1v-1h1zM1574 261h4v1h1v1h1v1h1v4h-1v1h-1v1h-1v1h-4v-1h-1v-1h-1v-1h-1v-4h1v-1h1v-1h1zM1609 262h4v1h1v1h1v1h1v4h-1v1h-1v1h-1v1h-4v-1h-1v-1h-1v-1h-1v-4h1v-1h1v-1h1zM1638 263h4v1h1v1h1v1h1v4h-1v1h-1v1h-1v1h-4v-1h-1v-1h-1v-1h-1v-4h1v-1h1v-1h1zM1673 260h4v1h1v1h1v1h1v4h-1v1h-1v1h-1v1h-4v-1h-1v-1h-1v-1h-1v-4h1v-1h1v-1h1zM1510 272h4v1h1v1h1v1h1v4h-1v1h-1v1h-1v1h-4v-1h-1v-1h-1v-1h-1v-4h1v-1h1v-1h1zM1548 282h4v1h1v1h1v1h1v4h-1v1h-1v1h-1v1h-4v-1h-1v-1h-1v-1h-1v-4h1v-1h1v-1h1zM1509 286h4v1h1v1h1v1h1v4h-1v1h-1v1h-1v1h-4v-1h-1v-1h-1v-1h-1v-4h1v-1h1v-1h1zM1519 293h4v1h1v1h1v1h1v4h-1v1h-1v1h-1v1h-4v-1h-1v-1h-1v-1h-1v-4h1v-1h1v-1h1zM1539 296h4v1h1v1h1v1h1v4h-1v1h-1v1h-1v1h-4v-1h-1v-1h-1v-1h-1v-4h1v-1h1v-1h1zM1472 305h4v1h1v1h1v1h1v4h-1v1h-1v1h-1v1h-4v-1h-1v-1h-1v-1h-1v-4h1v-1h1v-1h1zM1513 304h4v1h1v1h1v1h1v4h-1v1h-1v1h-1v1h-4v-1h-1v-1h-1v-1h-1v-4h1v-1h1v-1h1zM1524 317h4v1h1v1h1v1h1v4h-1v1h-1v1h-1v1h-4v-1h-1v-1h-1v-1h-1v-4h1v-1h1v-1h1zM1499 325h4v1h1v1h1v1h1v4h-1v1h-1v1h-1v1h-4v-1h-1v-1h-1v-1h-1v-4h1v-1h1v-1h1zM1543 327h4v1h1v1h1v1h1v4h-1v1h-1v1h-1v1h-4v-1h-1v-1h-1v-1h-1v-4h1v-1h1v-1h1zM1498 338h4v1h1v1h1v1h1v4h-1v1h-1v1h-1v1h-4v-1h-1v-1h-1v-1h-1v-4h1v-1h1v-1h1zM1541 349h4v1h1v1h1v1h1v4h-1v1h-1v1h-1v1h-4v-1h-1v-1h-1v-1h-1v-4h1v-1h1v-1h1zM1465 355h4v1h1v1h1v1h1v4h-1v1h-1v1h-1v1h-4v-1h-1v-1h-1v-1h-1v-4h1v-1h1v-1h1zM1476 357h4v1h1v1h1v1h1v4h-1v1h-1v1h-1v1h-4v-1h-1v-1h-1v-1h-1v-4h1v-1h1v-1h1zM1549 358h4v1h1v1h1v1h1v4h-1v1h-1v1h-1v1h-4v-1h-1v-1h-1v-1h-1v-4h1v-1h1v-1h1zM1559 370h4v1h1v1h1v1h1v4h-1v1h-1v1h-1v1h-4v-1h-1v-1h-1v-1h-1v-4h1v-1h1v-1h1zM1617 271h4v1h1v1h1v1h1v4h-1v1h-1v1h-1v1h-4v-1h-1v-1h-1v-1h-1v-4h1v-1h1v-1h1zM1659 272h4v1h1v1h1v1h1v4h-1v1h-1v1h-1v1h-4v-1h-1v-1h-1v-1h-1v-4h1v-1h1v-1h1zM1630 282h4v1h1v1h1v1h1v4h-1v1h-1v1h-1v1h-4v-1h-1v-1h-1v-1h-1v-4h1v-1h1v-1h1zM1674 286h4v1h1v1h1v1h1v4h-1v1h-1v1h-1v1h-4v-1h-1v-1h-1v-1h-1v-4h1v-1h1v-1h1zM1577 306h4v1h1v1h1v1h1v4h-1v1h-1v1h-1v1h-4v-1h-1v-1h-1v-1h-1v-4h1v-1h1v-1h1zM1592 314h4v1h1v1h1v1h1v4h-1v1h-1v1h-1v1h-4v-1h-1v-1h-1v-1h-1v-4h1v-1h1v-1h1zM1597 315h4v1h1v1h1v1h1v4h-1v1h-1v1h-1v1h-4v-1h-1v-1h-1v-1h-1v-4h1v-1h1v-1h1zM1612 325h4v1h1v1h1v1h1v4h-1v1h-1v1h-1v1h-4v-1h-1v-1h-1v-1h-1v-4h1v-1h1v-1h1zM1609 328h4v1h1v1h1v1h1v4h-1v1h-1v1h-1v1h-4v-1h-1v-1h-1v-1h-1v-4h1v-1h1v-1h1zM1625 325h4v1h1v1h1v1h1v4h-1v1h-1v1h-1v1h-4v-1h-1v-1h-1v-1h-1v-4h1v-1h1v-1h1zM1578 330h4v1h1v1h1v1h1v4h-1v1h-1v1h-1v1h-4v-1h-1v-1h-1v-1h-1v-4h1v-1h1v-1h1zM1655 327h4v1h1v1h1v1h1v4h-1v1h-1v1h-1v1h-4v-1h-1v-1h-1v-1h-1v-4h1v-1h1v-1h1zM1662 337h4v1h1v1h1v1h1v4h-1v1h-1v1h-1v1h-4v-1h-1v-1h-1v-1h-1v-4h1v-1h1v-1h1zM1653 342h4v1h1v1h1v1h1v4h-1v1h-1v1h-1v1h-4v-1h-1v-1h-1v-1h-1v-4h1v-1h1v-1h1zM1674 341h4v1h1v1h1v1h1v4h-1v1h-1v1h-1v1h-4v-1h-1v-1h-1v-1h-1v-4h1v-1h1v-1h1zM1581 352h4v1h1v1h1v1h1v4h-1v1h-1v1h-1v1h-4v-1h-1v-1h-1v-1h-1v-4h1v-1h1v-1h1zM1606 350h4v1h1v1h1v1h1v4h-1v1h-1v1h-1v1h-4v-1h-1v-1h-1v-1h-1v-4h1v-1h1v-1h1zM1621 355h4v1h1v1h1v1h1v4h-1v1h-1v1h-1v1h-4v-1h-1v-1h-1v-1h-1v-4h1v-1h1v-1h1zM1591 359h4v1h1v1h1v1h1v4h-1v1h-1v1h-1v1h-4v-1h-1v-1h-1v-1h-1v-4h1v-1h1v-1h1zM1593 360h4v1h1v1h1v1h1v4h-1v1h-1v1h-1v1h-4v-1h-1v-1h-1v-1h-1v-4h1v-1h1v-1h1zM1600 368h4v1h1v1h1v1h1v4h-1v1h-1v1h-1v1h-4v-1h-1v-1h-1v-1h-1v-4h1v-1h1v-1h1zM1504 378h4v1h1v1h1v1h1v4h-1v1h-1v1h-1v1h-4v-1h-1v-1h-1v-1h-1v-4h1v-1h1v-1h1zM1529 378h4v1h1v1h1v1h1v4h-1v1h-1v1h-1v1h-4v-1h-1v-1h-1v-1h-1v-4h1v-1h1v-1h1zM1498 386h4v1h1v1h1v1h1v4h-1v1h-1v1h-1v1h-4v-1h-1v-1h-1v-1h-1v-4h1v-1h1v-1h1zM1518 385h4v1h1v1h1v1h1v4h-1v1h-1v1h-1v1h-4v-1h-1v-1h-1v-1h-1v-4h1v-1h1v-1h1zM1523 390h4v1h1v1h1v1h1v4h-1v1h-1v1h-1v1h-4v-1h-1v-1h-1v-1h-1v-4h1v-1h1v-1h1zM1519 393h4v1h1v1h1v1h1v4h-1v1h-1v1h-1v1h-4v-1h-1v-1h-1v-1h-1v-4h1v-1h1v-1h1zM1538 393h4v1h1v1h1v1h1v4h-1v1h-1v1h-1v1h-4v-1h-1v-1h-1v-1h-1v-4h1v-1h1v-1h1zM1539 399h4v1h1v1h1v1h1v4h-1v1h-1v1h-1v1h-4v-1h-1v-1h-1v-1h-1v-4h1v-1h1v-1h1zM1563 381h4v1h1v1h1v1h1v4h-1v1h-1v1h-1v1h-4v-1h-1v-1h-1v-1h-1v-4h1v-1h1v-1h1zM1565 392h4v1h1v1h1v1h1v4h-1v1h-1v1h-1v1h-4v-1h-1v-1h-1v-1h-1v-4h1v-1h1v-1h1zM1567 390h4v1h1v1h1v1h1v4h-1v1h-1v1h-1v1h-4v-1h-1v-1h-1v-1h-1v-4h1v-1h1v-1h1zM1494 410h4v1h1v1h1v1h1v4h-1v1h-1v1h-1v1h-4v-1h-1v-1h-1v-1h-1v-4h1v-1h1v-1h1zM1517 408h4v1h1v1h1v1h1v4h-1v1h-1v1h-1v1h-4v-1h-1v-1h-1v-1h-1v-4h1v-1h1v-1h1zM1508 423h4v1h1v1h1v1h1v4h-1v1h-1v1h-1v1h-4v-1h-1v-1h-1v-1h-1v-4h1v-1h1v-1h1zM1546 434h4v1h1v1h1v1h1v4h-1v1h-1v1h-1v1h-4v-1h-1v-1h-1v-1h-1v-4h1v-1h1v-1h1zM1485 443h4v1h1v1h1v1h1v4h-1v1h-1v1h-1v1h-4v-1h-1v-1h-1v-1h-1v-4h1v-1h1v-1h1zM1567 444h4v1h1v1h1v1h1v4h-1v1h-1v1h-1v1h-4v-1h-1v-1h-1v-1h-1v-4h1v-1h1v-1h1zM1471 455h4v1h1v1h1v1h1v4h-1v1h-1v1h-1v1h-4v-1h-1v-1h-1v-1h-1v-4h1v-1h1v-1h1zM1549 453h4v1h1v1h1v1h1v4h-1v1h-1v1h-1v1h-4v-1h-1v-1h-1v-1h-1v-4h1v-1h1v-1h1zM1535 459h4v1h1v1h1v1h1v4h-1v1h-1v1h-1v1h-4v-1h-1v-1h-1v-1h-1v-4h1v-1h1v-1h1zM1521 467h4v1h1v1h1v1h1v4h-1v1h-1v1h-1v1h-4v-1h-1v-1h-1v-1h-1v-4h1v-1h1v-1h1zM1498 476h4v1h1v1h1v1h1v4h-1v1h-1v1h-1v1h-4v-1h-1v-1h-1v-1h-1v-4h1v-1h1v-1h1zM1597 378h4v1h1v1h1v1h1v4h-1v1h-1v1h-1v1h-4v-1h-1v-1h-1v-1h-1v-4h1v-1h1v-1h1zM1621 380h4v1h1v1h1v1h1v4h-1v1h-1v1h-1v1h-4v-1h-1v-1h-1v-1h-1v-4h1v-1h1v-1h1zM1574 402h4v1h1v1h1v1h1v4h-1v1h-1v1h-1v1h-4v-1h-1v-1h-1v-1h-1v-4h1v-1h1v-1h1zM1580 407h4v1h1v1h1v1h1v4h-1v1h-1v1h-1v1h-4v-1h-1v-1h-1v-1h-1v-4h1v-1h1v-1h1zM1604 401h4v1h1v1h1v1h1v4h-1v1h-1v1h-1v1h-4v-1h-1v-1h-1v-1h-1v-4h1v-1h1v-1h1zM1642 400h4v1h1v1h1v1h1v4h-1v1h-1v1h-1v1h-4v-1h-1v-1h-1v-1h-1v-4h1v-1h1v-1h1zM1615 412h4v1h1v1h1v1h1v4h-1v1h-1v1h-1v1h-4v-1h-1v-1h-1v-1h-1v-4h1v-1h1v-1h1zM1646 412h4v1h1v1h1v1h1v4h-1v1h-1v1h-1v1h-4v-1h-1v-1h-1v-1h-1v-4h1v-1h1v-1h1zM1665 419h4v1h1v1h1v1h1v4h-1v1h-1v1h-1v1h-4v-1h-1v-1h-1v-1h-1v-4h1v-1h1v-1h1zM1571 455h4v1h1v1h1v1h1v4h-1v1h-1v1h-1v1h-4v-1h-1v-1h-1v-1h-1v-4h1v-1h1v-1h1zM1608 457h4v1h1v1h1v1h1v4h-1v1h-1v1h-1v1h-4v-1h-1v-1h-1v-1h-1v-4h1v-1h1v-1h1zM1667 476h4v1h1v1h1v1h1v4h-1v1h-1v1h-1v1h-4v-1h-1v-1h-1v-1h-1v-4h1v-1h1v-1h1zM1494 496h4v1h1v1h1v1h1v4h-1v1h-1v1h-1v1h-4v-1h-1v-1h-1v-1h-1v-4h1v-1h1v-1h1zM1508 497h4v1h1v1h1v1h1v4h-1v1h-1v1h-1v1h-4v-1h-1v-1h-1v-1h-1v-4h1v-1h1v-1h1zM1552 507h4v1h1v1h1v1h1v4h-1v1h-1v1h-1v1h-4v-1h-1v-1h-1v-1h-1v-4h1v-1h1v-1h1zM1624 498h4v1h1v1h1v1h1v4h-1v1h-1v1h-1v1h-4v-1h-1v-1h-1v-1h-1v-4h1v-1h1v-1h1zM1653 520h4v1h1v1h1v1h1v4h-1v1h-1v1h-1v1h-4v-1h-1v-1h-1v-1h-1v-4h1v-1h1v-1h1zM1678 551h4v1h1v1h1v1h1v4h-1v1h-1v1h-1v1h-4v-1h-1v-1h-1v-1h-1v-4h1v-1h1v-1h1z"/>
<text transform="translate(124.80,771.70) scale(1,1.045)" x="0" y="0" font-size="32" text-anchor="end" style="letter-spacing:0.150px">3000</text>
<text transform="translate(124.80,664.87) scale(1,1.045)" x="0" y="0" font-size="32" text-anchor="end" style="letter-spacing:0.150px">3500</text>
<text transform="translate(124.80,558.03) scale(1,1.045)" x="0" y="0" font-size="32" text-anchor="end" style="letter-spacing:0.150px">4000</text>
<text transform="translate(124.80,451.20) scale(1,1.045)" x="0" y="0" font-size="32" text-anchor="end" style="letter-spacing:0.150px">4500</text>
<text transform="translate(124.80,344.37) scale(1,1.045)" x="0" y="0" font-size="32" text-anchor="end" style="letter-spacing:0.150px">5000</text>
<text transform="translate(124.80,237.53) scale(1,1.045)" x="0" y="0" font-size="32" text-anchor="end" style="letter-spacing:0.150px">5500</text>
<text transform="translate(124.80,130.70) scale(1,1.045)" x="0" y="0" font-size="32" text-anchor="end" style="letter-spacing:0.150px">6000</text>
<text x="469.75" y="901.00" font-size="32" text-anchor="middle" style="letter-spacing:-0.400px">Adelie</text>
<text x="1021.80" y="901.00" font-size="32" text-anchor="middle" style="letter-spacing:-0.175px">Chinstrap</text>
<text x="1572.35" y="901.00" font-size="32" text-anchor="middle" style="letter-spacing:-0.400px">Gentoo</text>
<text x="1021.80" y="938.70" font-size="32" text-anchor="middle" style="letter-spacing:-0.400px">species</text>
<text transform="translate(40.00,437.10) rotate(-90)" x="0" y="0" font-size="32" text-anchor="middle" style="letter-spacing:0.117px">Body Mass (g)</text>
</svg></body></html>
